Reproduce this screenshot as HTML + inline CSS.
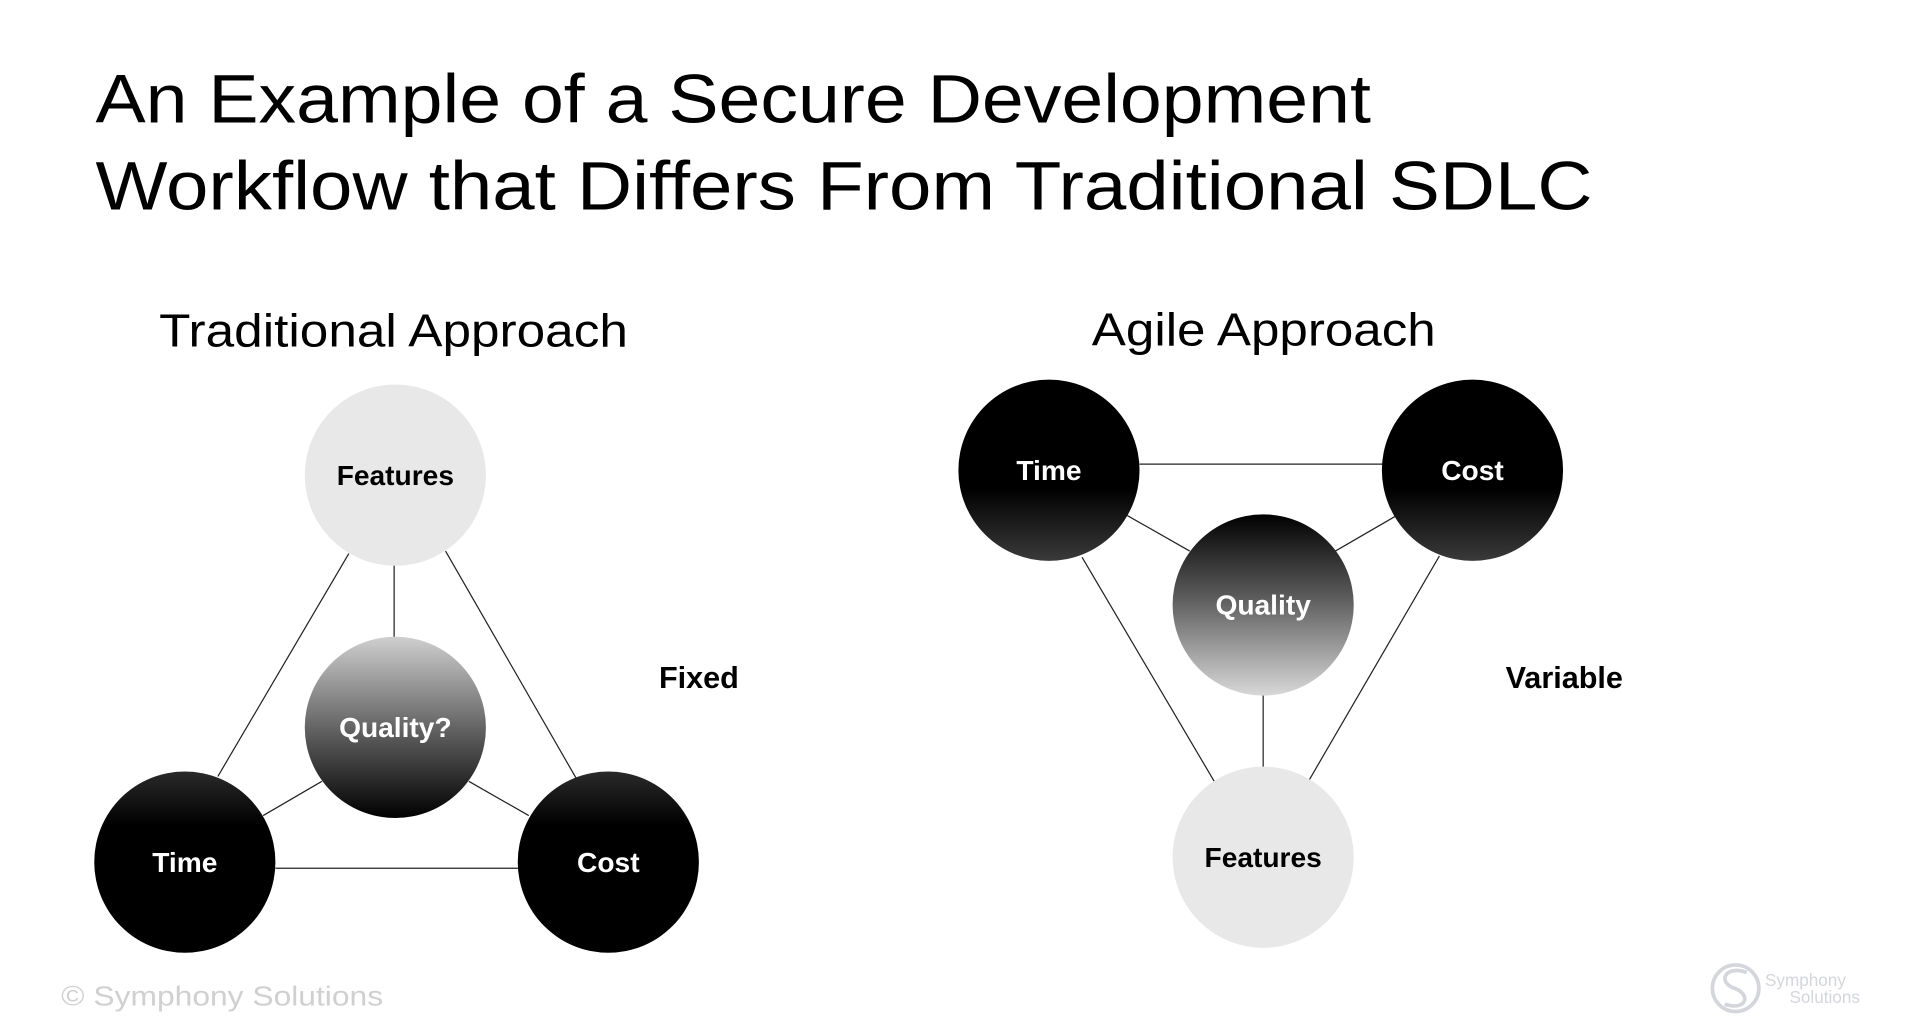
<!DOCTYPE html>
<html><head><meta charset="utf-8"><style>
html,body{margin:0;padding:0;background:#fff;}
svg{display:block;}
text{font-family:"Liberation Sans",sans-serif;}
</style></head><body>
<svg width="1918" height="1036" viewBox="0 0 1567 846" preserveAspectRatio="none" xmlns="http://www.w3.org/2000/svg">
<defs>
<linearGradient id="qt" x1="0" y1="0" x2="0" y2="1"><stop offset="0" stop-color="#cfcfcf"/><stop offset="0.55" stop-color="#5a5a5a"/><stop offset="1" stop-color="#000"/></linearGradient>
<linearGradient id="qa" x1="0" y1="0" x2="0" y2="1"><stop offset="0" stop-color="#000"/><stop offset="0.45" stop-color="#5a5a5a"/><stop offset="1" stop-color="#d8d8d8"/></linearGradient>
<linearGradient id="bt" x1="0" y1="0" x2="0" y2="1"><stop offset="0" stop-color="#2a2a2a"/><stop offset="0.3" stop-color="#000"/><stop offset="1" stop-color="#000"/></linearGradient>
<linearGradient id="ba" x1="0" y1="0" x2="0" y2="1"><stop offset="0" stop-color="#000"/><stop offset="0.6" stop-color="#000"/><stop offset="1" stop-color="#3a3a3a"/></linearGradient>
</defs>
<rect width="1567" height="846" fill="#fff"/>
<text x="78" y="100" font-size="56" fill="#000" textLength="1042" lengthAdjust="spacingAndGlyphs">An Example of a Secure Development</text>
<text x="78" y="171" font-size="56" fill="#000" textLength="1223" lengthAdjust="spacingAndGlyphs">Workflow that Differs From Traditional SDLC</text>
<text x="130" y="283" font-size="38" fill="#000" textLength="383" lengthAdjust="spacingAndGlyphs">Traditional Approach</text>
<text x="892" y="282" font-size="38" fill="#000" textLength="281" lengthAdjust="spacingAndGlyphs">Agile Approach</text>
<g stroke="#222" stroke-width="1" fill="none">
<line x1="285" y1="452" x2="178" y2="634"/>
<line x1="364" y1="450" x2="471" y2="636"/>
<line x1="322" y1="460" x2="322" y2="522"/>
<line x1="263" y1="638" x2="215" y2="666"/>
<line x1="383" y1="638" x2="432" y2="666"/>
<line x1="225" y1="709" x2="424" y2="709"/>
<line x1="931" y1="379" x2="1130" y2="379"/>
<line x1="921" y1="421" x2="972" y2="450"/>
<line x1="1141" y1="421" x2="1091" y2="450"/>
<line x1="884" y1="455" x2="992" y2="638"/>
<line x1="1176" y1="454" x2="1069" y2="638"/>
<line x1="1032" y1="566" x2="1032" y2="628"/>
</g>
<circle cx="323" cy="388" r="74" fill="#e8e8e8"/>
<circle cx="323" cy="594" r="74" fill="url(#qt)"/>
<circle cx="151" cy="704" r="74" fill="url(#bt)"/>
<circle cx="497" cy="704" r="74" fill="url(#bt)"/>
<circle cx="857" cy="384" r="74" fill="url(#ba)"/>
<circle cx="1203" cy="384" r="74" fill="url(#ba)"/>
<circle cx="1032" cy="494" r="74" fill="url(#qa)"/>
<circle cx="1032" cy="700" r="74" fill="#e8e8e8"/>
<g font-size="23" font-weight="bold" text-anchor="middle">
<text x="323" y="396" fill="#000">Features</text>
<text x="323" y="602" fill="#fff">Quality?</text>
<text x="151" y="712" fill="#fff">Time</text>
<text x="497" y="712" fill="#fff">Cost</text>
<text x="857" y="392" fill="#fff">Time</text>
<text x="1203" y="392" fill="#fff">Cost</text>
<text x="1032" y="502" fill="#fff">Quality</text>
<text x="1032" y="708" fill="#000">Features</text>
<text x="571" y="562" fill="#000" font-size="25">Fixed</text>
<text x="1278" y="562" fill="#000" font-size="25">Variable</text>
</g>
<text x="50" y="821" font-size="23" fill="#d0d0d0" textLength="263" lengthAdjust="spacingAndGlyphs">© Symphony Solutions</text>
<g fill="none" stroke="#d4d6dc" stroke-width="3">
<circle cx="1418" cy="807" r="19"/>
<path d="M1427 794 C1409 788 1403 802 1417 807 C1431 812 1427 826 1409 820"/>
</g>
<text x="1442" y="805" font-size="14" fill="#d4d6dc">Symphony</text>
<text x="1462" y="819" font-size="14" fill="#d4d6dc">Solutions</text>
</svg>
</body></html>
